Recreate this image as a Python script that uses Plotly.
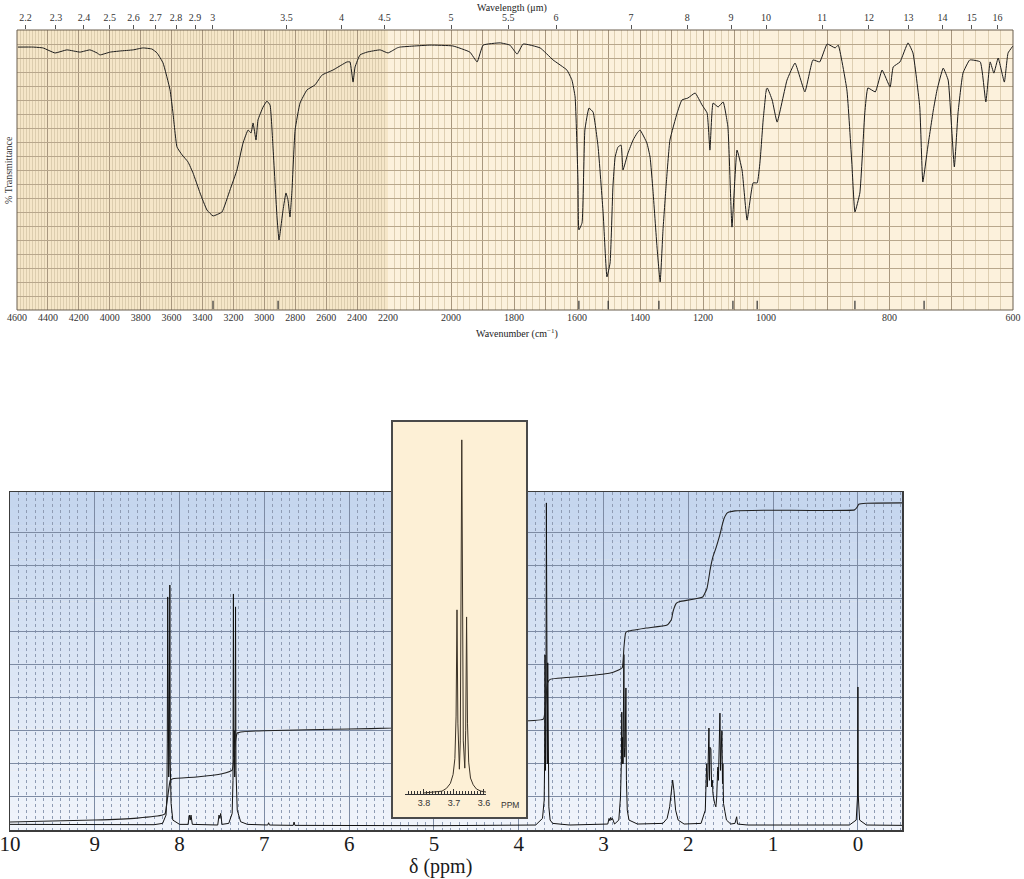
import plotly.graph_objects as go

W, H = 1024, 879


def px(x):
    return x / W


def py(y):
    return 1 - y / H


# ---------------- IR data (wavenumber cm-1, % transmittance) ----------------
ir_wavenumber = [4594, 4496, 4432, 4354, 4277, 4192, 4128, 4082, 4063, 3998, 3934, 3849, 3785, 3727,
                 3694, 3655, 3610, 3591, 3565, 3532, 3494, 3461, 3416, 3371, 3332, 3274, 3222, 3177,
                 3138, 3105, 3086, 3073, 3054, 3041, 3008, 2983, 2963, 2944, 2918, 2905, 2879, 2860,
                 2847, 2834, 2821, 2801, 2769, 2724, 2672, 2627, 2556, 2465, 2446, 2426, 2413, 2381,
                 2336, 2251, 2200, 2171, 2162, 2067, 1994, 1940, 1917, 1898, 1844, 1813, 1790, 1771,
                 1717, 1676, 1632, 1616, 1606, 1597, 1594, 1584, 1575, 1562, 1549, 1533, 1517, 1505,
                 1495, 1486, 1479, 1470, 1460, 1454, 1438, 1422, 1409, 1400, 1378, 1368, 1359, 1346,
                 1336, 1327, 1317, 1305, 1282, 1267, 1248, 1225, 1203, 1187, 1178, 1168, 1152, 1136,
                 1121, 1108, 1092, 1076, 1060, 1041, 1028, 1019, 1009, 998, 990, 982, 966, 953,
                 937, 924, 913, 901, 888, 883, 869, 861, 856, 848, 840, 835, 823, 812,
                 799, 794, 783, 770, 762, 751, 746, 738, 729, 723, 713, 705, 695, 689,
                 681, 670, 653, 644, 637, 631, 624, 614, 608, 600]
ir_transmittance = [93.9, 93.9, 93.6, 91.8, 92.9, 92.1, 92.9, 91.8, 91.1, 92.1, 92.5, 92.9, 93.6, 93.2,
                    91.8, 88.2, 78.6, 70.4, 58.2, 55.4, 52.9, 48.9, 41.8, 35.7, 33.6, 35.0, 42.9, 50.0,
                    59.6, 64.3, 63.2, 66.8, 60.7, 67.9, 72.5, 74.6, 73.2, 58.2, 33.2, 25.0, 35.7, 41.8,
                    39.3, 33.2, 42.9, 64.3, 73.9, 78.6, 80.4, 83.9, 85.7, 88.6, 88.6, 81.4, 86.8, 91.1,
                    92.1, 92.9, 91.8, 93.6, 93.9, 94.6, 94.3, 92.1, 88.6, 94.6, 95.4, 94.6, 91.4, 95.0,
                    93.6, 89.3, 85.7, 82.1, 76.1, 46.4, 28.6, 31.1, 64.3, 72.1, 70.7, 58.2, 34.6, 11.8,
                    16.8, 43.9, 54.6, 58.2, 58.9, 50.0, 56.1, 60.7, 63.2, 64.3, 59.6, 54.6, 42.9, 22.5,
                    10.0, 28.6, 44.6, 60.7, 70.4, 75.0, 75.7, 77.5, 73.2, 70.4, 57.1, 73.9, 72.5, 74.3,
                    65.4, 29.6, 57.1, 50.0, 32.1, 45.4, 45.4, 52.9, 67.9, 79.3, 75.0, 67.1, 82.1, 88.2,
                    77.9, 89.3, 88.6, 95.0, 93.6, 94.6, 78.6, 52.5, 35.0, 41.8, 70.4, 79.3, 77.9, 85.7,
                    79.6, 86.8, 88.6, 95.4, 91.8, 72.5, 45.7, 58.2, 71.4, 78.6, 86.4, 82.1, 51.1, 70.4,
                    84.6, 89.3, 88.6, 74.3, 88.6, 84.6, 90.0, 81.4, 91.8, 94.3]
ir_peak_marks = [3332, 2911, 1594, 1501, 1340, 1105, 1028, 856, 744]
ir_peak_mark_level = [1.8] * len(ir_peak_marks)

ir_segments = [(4600, 2200), (2200, 1000), (1000, 600)]
ir_bottom_ticks = [[4600, 4400, 4200, 4000, 3800, 3600, 3400, 3200, 3000, 2800, 2600, 2400, 2200],
                   [2100, 2000, 1900, 1800, 1700, 1600, 1500, 1400, 1300, 1200, 1100, 1000],
                   [900, 800, 700, 600]]
ir_bottom_labels = [[str(v) for v in ir_bottom_ticks[0]],
                    [" ", "2000", " ", "1800", " ", "1600", " ", "1400", " ", "1200", " ", "1000"],
                    [" ", "800", " ", "600"]]
wavelength_um = [[2.2, 2.3, 2.4, 2.5, 2.6, 2.7, 2.8, 2.9, 3, 3.5, 4, 4.5],
                 [5, 5.5, 6, 7, 8, 9, 10],
                 [11, 12, 13, 14, 15, 16]]

# ---------------- 1H NMR data (ppm, relative intensity) ----------------
nmr_ppm = [10.0, 9.0, 8.3, 8.2, 8.16, 8.15, 8.145, 8.14, 8.136, 8.132, 8.128, 8.122, 8.115, 8.11, 8.10,
           8.08, 8.0, 7.90, 7.885, 7.875, 7.865, 7.85, 7.55, 7.535, 7.525, 7.515, 7.50, 7.42, 7.38,
           7.37, 7.365, 7.36, 7.355, 7.35, 7.345, 7.34, 7.335, 7.32, 7.28, 7.2, 6.96, 6.95, 6.94,
           6.66, 6.65, 6.64, 5.0, 3.8, 3.72, 3.70, 3.695, 3.69, 3.685, 3.68, 3.674, 3.668, 3.663,
           3.658, 3.654, 3.645, 3.63, 3.60, 3.4, 2.95, 2.935, 2.925, 2.915, 2.905, 2.895, 2.87, 2.82,
           2.80, 2.79, 2.785, 2.78, 2.775, 2.77, 2.76, 2.755, 2.75, 2.745, 2.736, 2.73, 2.72, 2.70,
           2.6, 2.3, 2.25, 2.22, 2.20, 2.185, 2.17, 2.15, 2.12, 2.05, 1.85, 1.80, 1.79, 1.783,
           1.777, 1.77, 1.757, 1.75, 1.745, 1.734, 1.725, 1.715, 1.71, 1.70, 1.69, 1.675, 1.665,
           1.655, 1.651, 1.645, 1.64, 1.627, 1.62, 1.612, 1.604, 1.597, 1.592, 1.585, 1.575, 1.568,
           1.55, 1.5, 1.45, 1.43, 1.42, 1.3, 0.1, 0.02, 0.005, 0.0, -0.005, -0.02, -0.1, -0.52]
nmr_intensity = [0.17, 0.16, 0.16, 0.2, 0.45, 1.0, 2.6, 7.04, 2.2, 3.2, 1.6, 2.2, 7.40, 2.0, 0.8,
                 0.3, 0.17, 0.17, 0.45, 0.3, 0.45, 0.17, 0.15, 0.45, 0.35, 0.5, 0.17, 0.2, 0.5,
                 1.5, 7.13, 2.2, 3.0, 1.6, 2.4, 6.74, 1.8, 0.6, 0.25, 0.17, 0.15, 0.22, 0.15,
                 0.14, 0.24, 0.14, 0.13, 0.15, 0.35, 0.9, 2.0, 5.29, 1.8, 3.0, 9.88, 3.0, 2.0,
                 5.05, 1.6, 0.7, 0.3, 0.2, 0.15, 0.18, 0.35, 0.28, 0.38, 0.3, 0.35, 0.18, 0.3,
                 1.0, 2.0, 3.56, 2.0, 2.8, 2.0, 5.3, 2.5, 2.2, 2.5, 4.29, 1.5, 0.6, 0.3,
                 0.18, 0.2, 0.35, 0.7, 1.2, 1.51, 1.2, 0.6, 0.3, 0.18, 0.2, 0.6, 1.5, 2.0,
                 1.3, 1.6, 3.08, 1.5, 2.5, 2.45, 1.3, 1.5, 1.1, 0.9, 0.8, 0.7, 1.0,
                 1.8, 1.9, 1.5, 2.0, 3.53, 1.8, 2.5, 3.0, 1.4, 2.0, 0.8, 0.7, 0.55,
                 0.3, 0.18, 0.2, 0.4, 0.18, 0.15, 0.15, 0.3, 1.0, 4.32, 1.0, 0.3, 0.15, 0.14]

integral_ppm = [10.0, 9.0, 8.5, 8.2, 8.17, 8.14, 8.11, 8.08, 7.8, 7.5, 7.38, 7.35, 7.32, 7.25, 7.0,
                6.0, 5.5, 4.22, 3.71, 3.69, 3.675, 3.66, 3.63, 3.2, 2.92, 2.85, 2.78, 2.76, 2.74,
                2.72, 2.5, 2.25, 2.2, 2.18, 2.14, 2.1, 1.83, 1.78, 1.74, 1.71, 1.67, 1.63, 1.58,
                1.54, 1.45, 1.0, 0.04, 0.01, -0.01, -0.1, -0.52]
integral_value = [0.24, 0.3, 0.36, 0.45, 0.5, 1.0, 1.5, 1.55, 1.6, 1.7, 1.81, 2.5, 2.93, 2.97, 3.0,
                  3.05, 3.08, 3.26, 3.35, 3.6, 4.1, 4.45, 4.55, 4.65, 4.74, 4.8, 4.9, 5.5, 5.95,
                  6.0, 6.1, 6.19, 6.35, 6.6, 6.85, 6.9, 7.04, 7.3, 7.9, 8.25, 8.55, 8.9, 9.4,
                  9.58, 9.64, 9.66, 9.67, 9.75, 9.84, 9.87, 9.88]

inset_ppm = [3.80, 3.76, 3.74, 3.725, 3.712, 3.703, 3.697, 3.693, 3.690, 3.687, 3.684, 3.682, 3.679,
             3.674, 3.669, 3.666, 3.664, 3.661, 3.658, 3.655, 3.651, 3.645, 3.636, 3.625, 3.61, 3.59]
inset_intensity = [0.3, 0.5, 0.8, 1.6, 3.0, 5.5, 10, 22, 52, 20, 8, 7, 15,
                   100, 15, 8, 7.3, 18, 50, 20, 9, 4.5, 2.6, 1.4, 0.8, 0.5]
inset_ticks = [3.8, 3.7, 3.6]
nmr_major_ticks = [10, 9, 8, 7, 6, 5, 4, 3, 2, 1, 0]

# ---------------- layout geometry ----------------
SERIF = "Liberation Serif, Times New Roman, serif"
SANS = "Liberation Sans, Arial, sans-serif"
ir_left, ir_b1, ir_b2, ir_right = px(17), px(388), px(766), px(1013)
ir_dom_y = [py(310), py(30)]
ir_x_domains = [[ir_left, ir_b1], [ir_b1, ir_b2], [ir_b2, ir_right]]

fig = go.Figure()

line_style = dict(color="#1b1b1b", width=1, shape="spline", smoothing=0.35)
for i in range(3):
    xa = "x" if i == 0 else f"x{i + 1}"
    fig.add_trace(go.Scatter(x=ir_wavenumber, y=ir_transmittance, mode="lines", line=line_style,
                             xaxis=xa, yaxis="y", hoverinfo="skip"))
    fig.add_trace(go.Scatter(x=ir_peak_marks, y=ir_peak_mark_level, mode="markers",
                             marker=dict(symbol="line-ns", size=6, line=dict(color="#333", width=1.2)),
                             xaxis=xa, yaxis="y", hoverinfo="skip"))

# top wavelength axes (empty carrier traces)
for i in range(3):
    fig.add_trace(go.Scatter(x=[], y=[], xaxis=f"x{7 + i}", yaxis="y", hoverinfo="skip"))

# NMR main
fig.add_trace(go.Scatter(x=nmr_ppm, y=nmr_intensity, mode="lines", line=dict(color="#111", width=1),
                         xaxis="x4", yaxis="y2", hoverinfo="skip"))
fig.add_trace(go.Scatter(x=integral_ppm, y=integral_value, mode="lines",
                         line=dict(color="#222", width=1.1, shape="spline", smoothing=0.4),
                         xaxis="x4", yaxis="y2", hoverinfo="skip"))
# inset frame (empty carrier)
fig.add_trace(go.Scatter(x=[], y=[], xaxis="x5", yaxis="y3", hoverinfo="skip"))
# inset spectrum
fig.add_trace(go.Scatter(x=inset_ppm, y=inset_intensity, mode="lines",
                         line=dict(color="#3b3226", width=1), xaxis="x6", yaxis="y4", hoverinfo="skip"))

ir_font = dict(family=SERIF, size=10, color="#333")
minor_ir = dict(tickmode="linear", tick0=0, dtick=20, showgrid=True, gridcolor="#d6c7a8", gridwidth=0.8,
                ticks="")
axis_common_ir = dict(showline=False, zeroline=False, ticks="", tickfont=ir_font, automargin=False,
                      ticklabeloverflow="allow",
                      showgrid=True, gridcolor="#a8977e", gridwidth=1, minor=minor_ir, anchor="y")

layout_axes = {}
for i, (seg, dom) in enumerate(zip(ir_segments, ir_x_domains)):
    name = "xaxis" if i == 0 else f"xaxis{i + 1}"
    layout_axes[name] = dict(axis_common_ir, domain=dom, range=list(seg), tickmode="array",
                             tickvals=ir_bottom_ticks[i], ticktext=ir_bottom_labels[i])
    top_ticks = [10000 / w for w in wavelength_um[i]]
    layout_axes[f"xaxis{7 + i}"] = dict(
        overlaying="x" if i == 0 else f"x{i + 1}", side="top", anchor="y", domain=dom, range=list(seg),
        tickmode="array", tickvals=top_ticks, ticktext=[f"{w:g}" for w in wavelength_um[i]],
        ticks="outside", ticklen=4, tickcolor="#555", tickwidth=1, showgrid=False, zeroline=False,
        showline=False, tickfont=ir_font, automargin=False, ticklabeloverflow="allow")

layout_axes["yaxis"] = dict(domain=ir_dom_y, range=[0, 100], dtick=5, tick0=0, showticklabels=False,
                            ticks="", showgrid=True, gridcolor="#b8a78c", gridwidth=1, zeroline=False,
                            anchor="x", automargin=False)

grid_blue = "#7d8ba4"
layout_axes["xaxis4"] = dict(domain=[px(10), px(902)], range=[10, -0.52], anchor="y2", automargin=False,
                             tickmode="array", tickvals=nmr_major_ticks, ticklabeloverflow="allow",
                             ticktext=[str(v) for v in nmr_major_ticks], ticklabelstandoff=-6,
                             tickfont=dict(family=SERIF, size=21, color="#1a1a1a"), ticks="",
                             showgrid=True, gridcolor=grid_blue, gridwidth=1, zeroline=False,
                             showline=True, linecolor="#3c3c3c", linewidth=1.5, mirror=True,
                             minor=dict(tickmode="linear", tick0=0, dtick=0.1, showgrid=True,
                                        gridcolor="#8f9cb4", griddash="dot", gridwidth=1, ticks=""))
layout_axes["yaxis2"] = dict(domain=[py(830), py(492)], range=[0, 10.21], anchor="x4", tickmode="array",
                             tickvals=[1, 2, 3, 4, 5, 6, 7, 8, 9], showticklabels=False, ticks="",
                             showgrid=True, gridcolor=grid_blue, gridwidth=1, zeroline=False,
                             showline=True, linecolor="#3c3c3c", linewidth=1.5, mirror=True,
                             automargin=False)

layout_axes["xaxis5"] = dict(domain=[px(393), px(526)], range=[0, 1], anchor="y3", showgrid=False,
                             zeroline=False, showticklabels=False, ticks="", showline=True,
                             linecolor="#4a4a4a", linewidth=1.6, mirror=True, automargin=False)
layout_axes["yaxis3"] = dict(domain=[py(817), py(422)], range=[0, 1], anchor="x5", showgrid=False,
                             zeroline=False, showticklabels=False, ticks="", showline=True,
                             linecolor="#4a4a4a", linewidth=1.6, mirror=True, automargin=False)

layout_axes["xaxis6"] = dict(domain=[px(405), px(486)], range=[3.8633, 3.5933], anchor="y4",
                             tickmode="array", tickvals=inset_ticks, ticktext=[f"{v:.1f}" for v in inset_ticks],
                             ticks="inside", ticklen=5, tickcolor="#333", tickwidth=1, automargin=False,
                             showline=True, linecolor="#333", linewidth=1, showgrid=False, zeroline=False,
                             tickfont=dict(family=SANS, size=9, color="#333"),
                             minor=dict(tickmode="linear", tick0=3.6, dtick=0.01, ticks="inside",
                                        ticklen=3, tickcolor="#333", showgrid=False))
layout_axes["yaxis4"] = dict(domain=[py(794), py(425)], range=[0, 104.2], anchor="x6", visible=False,
                             automargin=False)

shapes = []
# IR backgrounds
shapes.append(dict(type="rect", xref="paper", yref="paper", x0=ir_left, x1=ir_b1, y0=ir_dom_y[0],
                   y1=ir_dom_y[1], fillcolor="#f5e6c8", line=dict(width=0), layer="below"))
shapes.append(dict(type="rect", xref="paper", yref="paper", x0=ir_b1, x1=ir_right, y0=ir_dom_y[0],
                   y1=ir_dom_y[1], fillcolor="#fcf1dc", line=dict(width=0), layer="below"))
shapes.append(dict(type="rect", xref="paper", yref="paper", x0=ir_left, x1=ir_right, y0=ir_dom_y[0],
                   y1=ir_dom_y[1], line=dict(color="#6b5f4f", width=1), layer="above"))
# NMR gradient background
n_bands = 40
top_c, bot_c = (196, 213, 238), (240, 244, 251)
y_top, y_bot = 492, 830
for k in range(n_bands):
    t = k / (n_bands - 1)
    c = tuple(round(top_c[j] + (bot_c[j] - top_c[j]) * t) for j in range(3))
    ya = y_top + (y_bot - y_top) * k / n_bands
    yb = y_top + (y_bot - y_top) * (k + 1) / n_bands
    shapes.append(dict(type="rect", xref="paper", yref="paper", x0=px(10), x1=px(902), y0=py(yb),
                       y1=py(ya) + 0.0005, fillcolor=f"rgb{c}", line=dict(width=0), layer="below"))

ann_common = dict(xref="paper", yref="paper", showarrow=False, xanchor="center", yanchor="middle")
annotations = [
    dict(ann_common, text="Wavelength (μm)", x=px(512), y=py(8),
         font=dict(family=SERIF, size=10, color="#222")),
    dict(ann_common, text="Wavenumber (cm<sup>−1</sup>)", x=px(517), y=py(333),
         font=dict(family=SERIF, size=10, color="#222")),
    dict(ann_common, text="% Transmittance", x=px(8), y=py(170), textangle=-90,
         font=dict(family=SERIF, size=10, color="#333")),
    dict(ann_common, text="δ (ppm)", x=px(440), y=py(866),
         font=dict(family=SERIF, size=20, color="#1a1a1a")),
    dict(ann_common, text="PPM", x=px(510), y=py(805),
         font=dict(family=SANS, size=8.5, color="#333")),
]

fig.update_layout(width=W, height=H, autosize=False, margin=dict(l=0, r=0, t=0, b=0, pad=0),
                  paper_bgcolor="white", plot_bgcolor="#fdf0d6", showlegend=False,
                  shapes=shapes, annotations=annotations, **layout_axes)

# remove the browser's default 8 px body margin so page pixels equal figure pixels
fig.write_html("out.html", config={"displayModeBar": False, "staticPlot": True},
               post_script="document.body.style.margin='0px';")
